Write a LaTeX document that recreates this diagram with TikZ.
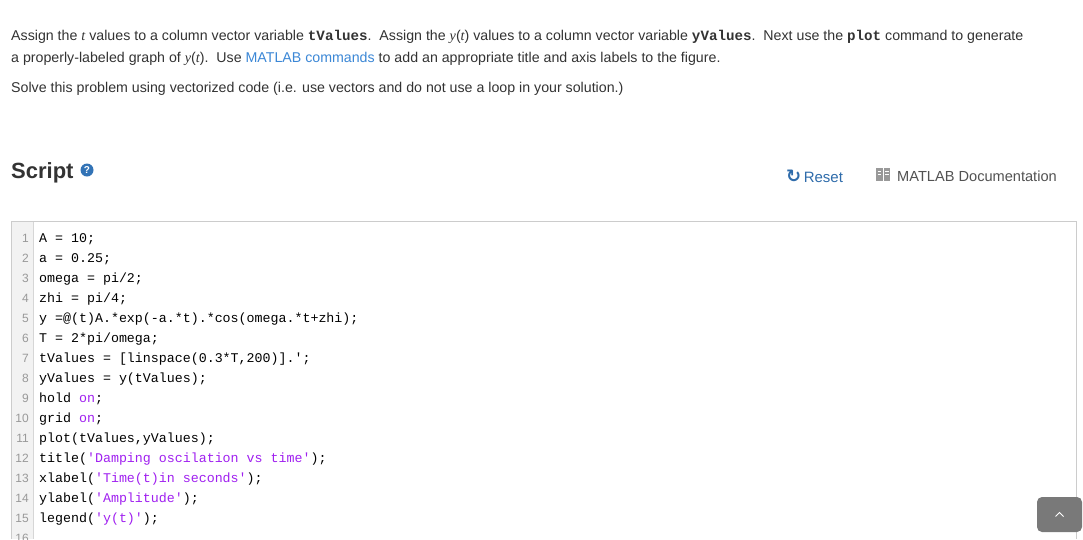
\documentclass[tikz,border=0pt]{standalone}
\usepackage{fontspec}
\setmainfont{Liberation Sans}
\newfontfamily\codef{Liberation Mono}
\newfontfamily\serf{Liberation Serif}
\newfontfamily\djvu{DejaVu Sans}
\definecolor{txt}{HTML}{333333}
\definecolor{lnk}{HTML}{3B87D6}
\definecolor{str}{HTML}{A020F0}
\definecolor{gut}{HTML}{F2F2F2}
\definecolor{lnum}{HTML}{999999}
\definecolor{bord}{HTML}{CCCCCC}
\newcommand{\mi}[1]{{\serf\itshape #1}}
\newcommand{\st}[1]{\textcolor{str}{#1}}
\begin{document}
\begin{tikzpicture}[x=1pt,y=-1pt,
  para/.style={anchor=base west,inner sep=0,text=txt,font=\fontsize{14.2}{16}\selectfont},
  code/.style={anchor=base west,inner sep=0,text=black,font=\codef\fontsize{13.3}{15}\selectfont},
  lnr/.style={anchor=base east,inner sep=0,text=lnum,font=\fontsize{12}{13}\selectfont}]
\useasboundingbox (0,0) rectangle (1083,539);
\fill[white] (0,0) rectangle (1083,539);
\node[para] (p1) at (11,40) {Assign the \mi{t} values to a column vector variable {\codef\bfseries tValues}.\ \ Assign the \mi{y}(\mi{t}) values to a column vector variable {\codef\bfseries yValues}.\ \ Next use the {\codef\bfseries plot} command to generate};
\node[para] (p2) at (11,62) {a properly-labeled graph of \mi{y}(\mi{t}).\ \ Use \textcolor{lnk}{MATLAB commands} to add an appropriate title and axis labels to the figure.};
\node[para] (p3) at (11,92) {Solve this problem using vectorized code (i.e. use vectors and do not use a loop in your solution.)};
\node[anchor=base west,inner sep=0,text=txt,font=\bfseries\fontsize{22}{26}\selectfont] (scr) at (11,178) {Script};
\fill[lnk!85!black] (87,170) circle (6.5);
\node[inner sep=0,text=white,font=\bfseries\fontsize{10}{10}\selectfont] (q) at (87,170.5) {?};
\node[anchor=base west,inner sep=0,text=lnk!80!black,font=\fontsize{15}{16}\selectfont] (rs) at (786,182) {{\djvu\bfseries\fontsize{18}{18}\selectfont ↻}\,Reset};
\fill[gray!80] (876,168) rectangle (882.5,180.5);
\fill[gray!80] (883.5,168) rectangle (890,180.5);
\draw[white,line width=0.6] (877.5,171)--(881,171) (877.5,174)--(881,174) (885,171)--(888.5,171) (885,174)--(888.5,174);
\node[anchor=base west,inner sep=0,text=txt!85,font=\fontsize{14.6}{16}\selectfont] (md) at (897,181) {MATLAB Documentation};
\fill[gut] (11.5,221.5) rectangle (33,539);
\draw[bord] (11.5,539) -- (11.5,221.5) -- (1076.5,221.5) -- (1076.5,539);
\draw[bord!80] (33,221.5) -- (33,539);
\foreach \c [count=\i] in {
 {A = 10;},{a = 0.25;},{omega = pi/2;},{zhi = pi/4;},
 {y =@(t)A.*exp(-a.*t).*cos(omega.*t+zhi);},{T = 2*pi/omega;},
 {tValues = [linspace(0.3*T,200)].';},{yValues = y(tValues);},
 {hold \st{on};},{grid \st{on};},{plot(tValues,yValues);},
 {title(\st{'Damping oscilation vs time'});},{xlabel(\st{'Time(t)in seconds'});},
 {ylabel(\st{'Amplitude'});},{legend(\st{'y(t)'});},{}}{
  \node[lnr] (n\i) at (29,{222+20*\i}) {\i};
  \node[code] (c\i) at (39,{222+20*\i}) {\c};
}
\fill[gray!95!black,rounded corners=5] (1037,497) rectangle (1082,532);
\draw[white,line width=1] (1055.5,516.5) -- (1059.5,512.5) -- (1063.5,516.5);
\end{tikzpicture}
\end{document}
